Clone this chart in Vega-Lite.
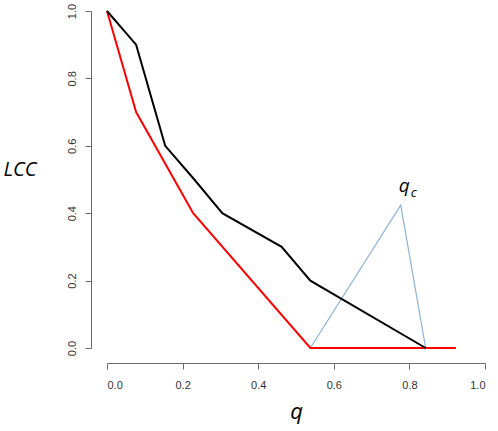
{
  "$schema": "https://vega.github.io/schema/vega-lite/v6.json",
  "description": "LCC against q",
  "width": 378,
  "height": 337,
  "autosize": {"type": "none"},
  "padding": {"left": 107, "top": 11, "right": 13, "bottom": 83},
  "config": {
    "view": {"stroke": null},
    "font": "Liberation Sans"
  },
  "datasets": {
    "black": [
      {"q": 0.0, "LCC": 1.0},
      {"q": 0.077, "LCC": 0.9},
      {"q": 0.154, "LCC": 0.6},
      {"q": 0.231, "LCC": 0.5},
      {"q": 0.305, "LCC": 0.4},
      {"q": 0.462, "LCC": 0.3},
      {"q": 0.538, "LCC": 0.2},
      {"q": 0.843, "LCC": 0.0}
    ],
    "red": [
      {"q": 0.0, "LCC": 1.0},
      {"q": 0.077, "LCC": 0.7},
      {"q": 0.228, "LCC": 0.4},
      {"q": 0.538, "LCC": 0.0},
      {"q": 0.923, "LCC": 0.0}
    ],
    "blue": [
      {"q": 0.538, "LCC": 0.0},
      {"q": 0.777, "LCC": 0.424},
      {"q": 0.843, "LCC": 0.0}
    ],
    "label": [
      {"q": 0.777, "LCC": 0.424}
    ]
  },
  "encoding": {
    "x": {
      "field": "q",
      "type": "quantitative",
      "scale": {"domain": [0, 1], "nice": false},
      "axis": {
        "values": [0, 0.2, 0.4, 0.6, 0.8, 1.0],
        "format": ".1f",
        "grid": false,
        "offset": 15,
        "domainColor": "#6b6b6b",
        "tickColor": "#6b6b6b",
        "tickSize": 6,
        "labelFontSize": 11,
        "labelColor": "#333333",
        "labelPadding": 10,
        "title": "q",
        "titleFont": "Open Sans",
        "titleFontStyle": "italic",
        "titleFontWeight": "normal",
        "titleFontSize": 22,
        "titleColor": "#000000",
        "titlePadding": 11
      }
    },
    "y": {
      "field": "LCC",
      "type": "quantitative",
      "scale": {"domain": [0, 1], "nice": false},
      "axis": {
        "values": [0, 0.2, 0.4, 0.6, 0.8, 1.0],
        "format": ".1f",
        "grid": false,
        "offset": 16,
        "domainColor": "#6b6b6b",
        "tickColor": "#6b6b6b",
        "tickSize": 6,
        "labelFontSize": 11,
        "labelColor": "#333333",
        "labelAngle": 270,
        "labelAlign": "center",
        "labelBaseline": "bottom",
        "labelPadding": 8,
        "title": "LCC",
        "titleAngle": 0,
        "titleAlign": "left",
        "titleBaseline": "middle",
        "titleX": -88,
        "titleY": 158,
        "titleFont": "Open Sans",
        "titleFontStyle": "italic",
        "titleFontWeight": "normal",
        "titleFontSize": 20,
        "titleColor": "#000000"
      }
    }
  },
  "layer": [
    {
      "data": {"name": "blue"},
      "mark": {"type": "line", "color": "#8cb1d9", "strokeWidth": 1.2}
    },
    {
      "data": {"name": "red"},
      "mark": {"type": "line", "color": "#ff0000", "strokeWidth": 2}
    },
    {
      "data": {"name": "black"},
      "mark": {"type": "line", "color": "#000000", "strokeWidth": 2}
    },
    {
      "data": {"name": "label"},
      "mark": {
        "type": "text",
        "text": "q",
        "align": "left",
        "baseline": "alphabetic",
        "dx": -2,
        "dy": -13,
        "font": "Open Sans",
        "fontStyle": "italic",
        "fontSize": 19,
        "color": "#000000"
      }
    },
    {
      "data": {"name": "label"},
      "mark": {
        "type": "text",
        "text": "c",
        "align": "left",
        "baseline": "alphabetic",
        "dx": 10,
        "dy": -8,
        "font": "Open Sans",
        "fontStyle": "italic",
        "fontSize": 13,
        "color": "#000000"
      }
    }
  ]
}
